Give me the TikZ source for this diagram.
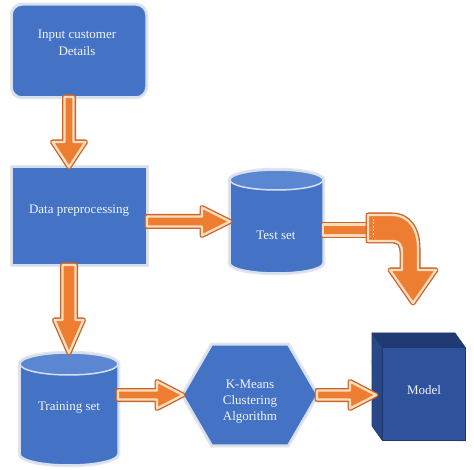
\documentclass[tikz,border=0pt]{standalone}
\usepackage{fontspec}
\setmainfont{Liberation Serif}
\usetikzlibrary{calc}
\definecolor{boxblue}{HTML}{4472C4}
\definecolor{rimblue}{HTML}{D3DFF2}
\definecolor{topblue}{HTML}{5B87D2}
\definecolor{arrorange}{HTML}{ED7D31}
\definecolor{arredge}{HTML}{C9652A}
\definecolor{arrcream}{HTML}{FBDDBE}
\definecolor{cubefront}{HTML}{2F529C}
\definecolor{cubetop}{HTML}{203A74}
\definecolor{cubeside}{HTML}{284889}
\definecolor{txtcol}{HTML}{F2F5FB}
\newcommand\blockarr[5]{% start, end, shaft hw, head hw, head len
  \coordinate (bah) at ($(#2)!#5!(#1)$);
  \foreach \st in {arrout,arrin}{
    \path[\st] ($(#1)!#3!90:(#2)$) -- ($(bah)!#3!90:(#2)$) -- ($(bah)!#4!90:(#2)$) -- (#2)
      -- ($(bah)!#4!-90:(#2)$) -- ($(bah)!#3!-90:(#2)$) -- ($(#1)!#3!-90:(#2)$) -- cycle;}
}
\tikzset{
  x=1pt, y=1pt,
  geo/.style={inner sep=0pt, outer sep=0pt},
  box/.style={geo, fill=boxblue, draw=rimblue, line width=1.5pt,
    preaction={draw=black!10, line width=4.5pt}},
  lbl/.style={text=txtcol, font=\fontsize{13}{16}\selectfont, align=center, inner sep=0pt},
  cylbody/.style={fill=boxblue, draw=rimblue, line width=1.5pt,
    preaction={draw=black!10, line width=4.5pt}},
  cyltop/.style={fill=topblue, draw=rimblue, line width=1.5pt},
  arrout/.style={draw=arredge, line width=5pt, line join=round, fill=arrorange},
  arrin/.style={draw=arrcream, line width=2.3pt, line join=round, fill=arrorange},
  cubeface/.style={draw=black!20!cubeside, line width=0.6pt, line join=round}
}
\newcommand\cyl[3]{% node name, rx, ry
  \path[cylbody] ([yshift=-#3pt]#1.north west) -- ([yshift=#3pt]#1.south west)
    arc[start angle=180,end angle=360,x radius=#2,y radius=#3]
    -- ([yshift=-#3pt]#1.north east)
    arc[start angle=0,end angle=180,x radius=#2,y radius=#3] -- cycle;
  \path[cyltop] ([yshift=-#3pt]#1.north) ellipse[x radius=#2,y radius=#3];
}
\begin{document}
\begin{tikzpicture}
\useasboundingbox (0,0) rectangle (474,-470);
\fill[white] (0,0) rectangle (474,-470);

% nodes
\node[box, rounded corners=10pt, minimum width=134pt, minimum height=92pt] (input) at (79,-51) {};
\node[lbl] (inputtxt) at (77,-43) {Input customer\\[1pt]Details};

\node[box, minimum width=135pt, minimum height=98pt] (prep) at (79.5,-216) {};
\node[lbl] (preptxt) at (79,-211) {Data preprocessing};

\node[geo, minimum width=93pt, minimum height=103pt] (test) at (276.5,-221.5) {};
\cyl{test}{46.5}{10}
\node[lbl] (testtxt) at (276,-235) {Test set};

\node[geo, minimum width=98pt, minimum height=112pt] (train) at (69,-409) {};
\cyl{train}{49}{11}
\node[lbl] (traintxt) at (69,-408) {Training set};

\node[geo, minimum width=134pt, minimum height=100pt] (kmeans) at (250,-395) {};
\path[box, line join=round] (kmeans.west) -- ([xshift=29pt]kmeans.north west) -- ([xshift=-29pt]kmeans.north east)
  -- (kmeans.east) -- ([xshift=-29pt]kmeans.south east) -- ([xshift=29pt]kmeans.south west) -- cycle;
\node[lbl] (kmeanstxt) at (250,-402) {K-Means\\Clustering\\Algorithm};

\node[geo, minimum width=83pt, minimum height=93pt] (model) at (423.5,-393.5) {};
\path[fill=black!8] ([shift={(-12,-12)}]model.north west) -- ([shift={(2,2)}]model.south west) -- ([shift={(2,-2)}]model.south east) -- cycle;
\path[cubeface, fill=cubeside] (model.north west) -- ([shift={(-10,14)}]model.north west)
  -- ([shift={(-10,14)}]model.south west) -- (model.south west) -- cycle;
\path[cubeface, fill=cubetop] (model.north west) -- ([shift={(-10,14)}]model.north west)
  -- ([shift={(-10,14)}]model.north east) -- (model.north east) -- cycle;
\path[cubeface, fill=cubefront] (model.north west) rectangle (model.south east);
\node[lbl] (modeltxt) at (424,-390) {Model};

% connectors
\coordinate (a1s) at ([xshift=-10pt]input.south);
\coordinate (a1e) at (a1s |- prep.north);
\blockarr{a1s}{a1e}{4.5pt}{16.5pt}{25pt}

\coordinate (a2s) at (prep.east |- test.west);
\blockarr{a2s}{test.west}{5pt}{14pt}{28pt}

\coordinate (a4s) at (prep.south -| train.north);
\blockarr{a4s}{train.north}{6.5pt}{14.5pt}{33pt}

\coordinate (a5s) at ([yshift=14pt]train.east);
\coordinate (a5e) at (a5s -| kmeans.west);
\blockarr{a5s}{a5e}{4.5pt}{13.5pt}{26pt}

\coordinate (a6e) at ([xshift=-6pt]model.west |- kmeans.east);
\blockarr{kmeans.east}{a6e}{4.5pt}{13.5pt}{26pt}

% bent arrow from test set
\coordinate (a3s) at ([yshift=-8.5pt]test.east);
\coordinate (a3e) at (374,-230);
\coordinate (bendtip) at (413,-303);
\foreach \st in {arrout,arrin}{
  \path[\st] ($(a3s)+(0,5.5)$) -- ($(a3e)+(0,5.5)$) -- ($(a3e)+(0,-5.5)$) -- ($(a3s)+(0,-5.5)$) -- cycle;}
\foreach \st in {arrout,arrin}{
  \path[\st] (368,-215) -- (392,-215) .. controls (409,-215) and (418,-229) .. (418,-248)
    -- (418,-270) -- (436,-270) -- (bendtip) -- (390,-270) -- (402,-270) -- (402,-252)
    .. controls (402,-245) and (399,-241) .. (393,-241) -- (368,-241) -- cycle;}
\draw[arrcream, line width=0.8pt, dash pattern=on 2pt off 1.5pt] (373,-219) -- (373,-237);
\end{tikzpicture}
\end{document}
